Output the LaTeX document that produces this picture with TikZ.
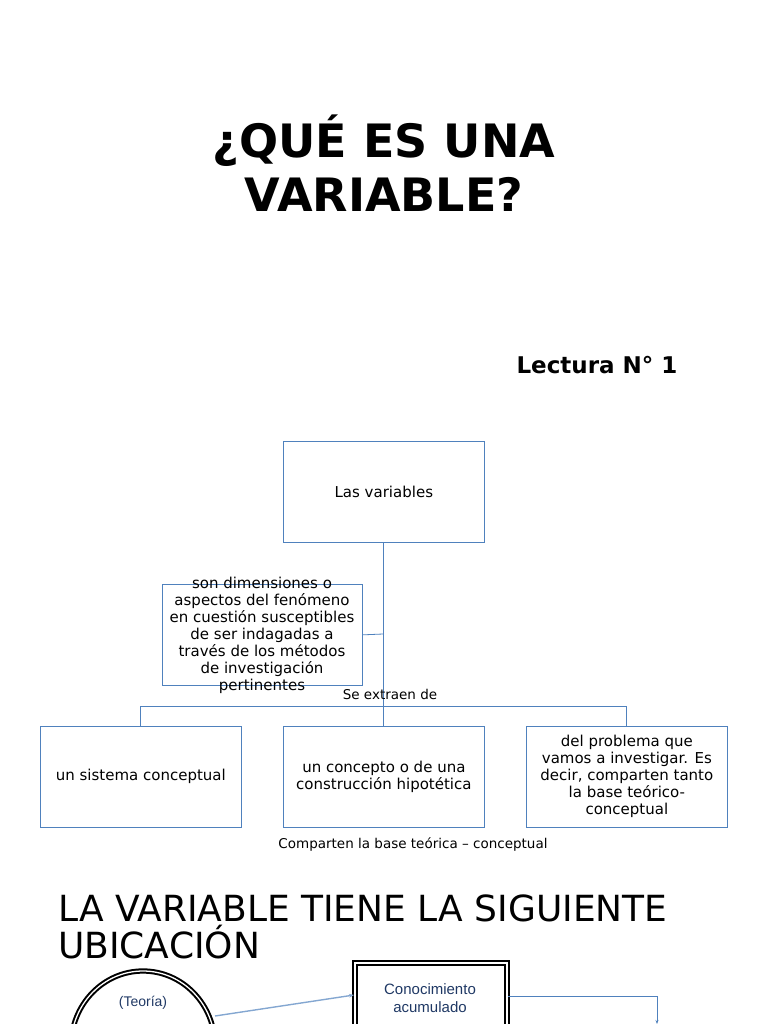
\documentclass[tikz,border=0pt]{standalone}
\usepackage{fontspec}
\setmainfont{DejaVu Sans}
\newfontfamily\arialf{Liberation Sans}
\usetikzlibrary{arrows.meta,shapes.geometric}
\definecolor{bx}{HTML}{4F81BD}
\definecolor{tx}{HTML}{1F3864}
\begin{document}
\begin{tikzpicture}[x=1pt,y=-1pt,
  box/.style={draw=bx,line width=0.7pt,minimum width=201pt,minimum height=101pt,anchor=north west,inner sep=0pt},
  btxt/.style={font=\fontsize{15}{17}\selectfont,align=center,inner sep=0pt},
  ln/.style={draw=bx,line width=0.8pt}]
\useasboundingbox (0,0) rectangle (768,1024);
\node[font=\bfseries\fontsize{46}{54}\selectfont,align=center] (title) at (384,163) {¿QUÉ ES UNA\\VARIABLE?};
\node[font=\bfseries\fontsize{23}{26}\selectfont] (lec) at (597,365) {Lectura N° 1};
\node[box] (lv) at (283,441) {};
\node[btxt] (lvt) at (lv.center) {Las variables};
\node[box,minimum width=200pt] (sd) at (162,584) {};
\node[btxt] (sdt) at (262,635) {son dimensiones o\\aspectos del fenómeno\\en cuestión susceptibles\\de ser indagadas a\\través de los métodos\\de investigación\\pertinentes};
\node[box] (b1) at (40,726) {};
\node[btxt] at (b1.center) {un sistema conceptual};
\node[box] (b2) at (283,726) {};
\node[btxt] at (b2.center) {un concepto o de una\\construcción hipotética};
\node[box] (b3) at (526,726) {};
\node[btxt] at (b3.center) {del problema que\\vamos a investigar. Es\\decir, comparten tanto\\la base teórico-\\conceptual};
\coordinate (j) at (383,634);
\coordinate (h) at (383,706);
\path[ln] (lv.south) -- (b2.north);
\path[ln] (sd.east) -- (j);
\path[ln] (b1.north) -- (b1.north |- h) -- (b3.north |- h) -- (b3.north);
\node[font=\fontsize{13.5}{15}\selectfont] (se) at (390,694) {Se extraen de};
\node[font=\fontsize{13.5}{15}\selectfont] (comp) at (413,844) {Comparten la base teórica – conceptual};
\node[font=\fontsize{36}{37}\selectfont,align=left,anchor=north west,inner sep=0pt] (lav) at (58,895) {LA VARIABLE TIENE LA SIGUIENTE\\UBICACIÓN};
\node[draw,double,line width=2pt,double distance=1.3pt,ellipse,minimum width=144pt,minimum height=150pt,inner sep=0pt] (teo) at (143,1046) {};
\node[font=\arialf\fontsize{14}{15}\selectfont,text=tx] (teot) at (143,1003) {(Teoría)};
\node[draw,double,line width=2.4pt,double distance=1.5pt,minimum width=152pt,minimum height=120pt,anchor=north west,inner sep=0pt] (ca) at (354,962) {};
\node[font=\arialf\fontsize{15}{18}\selectfont,text=tx,align=center] (cat) at (430,998) {Conocimiento\\acumulado};
\coordinate (c1) at (657,996);
\coordinate (c2) at (657,1024);
\draw[draw=bx!70,line width=1.4pt,-{Stealth[length=5pt]}] (215,1016) -- (ca.west |- 0,995);
\draw[draw=bx,line width=0.8pt,-{Stealth[length=4pt]}] (ca.east |- c1) -- (c1) -- (c2);
\end{tikzpicture}
\end{document}
